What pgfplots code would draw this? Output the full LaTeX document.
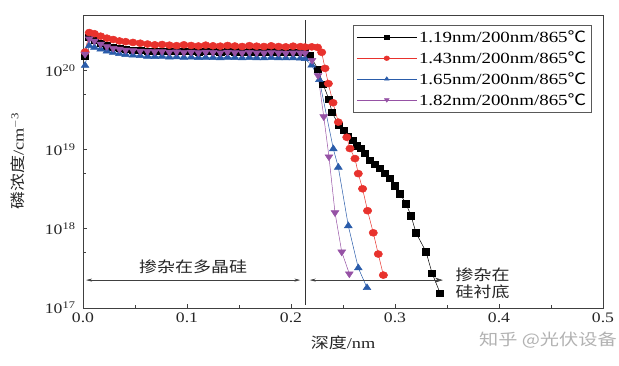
\documentclass[border=0pt]{standalone}
\usepackage{fontspec}
\setmainfont{Liberation Serif}[FakeStretch=1.22]
\newfontfamily\cjk{Noto Sans CJK SC}[FakeStretch=1.2]
\usepackage{pgfplots}
\pgfplotsset{compat=1.18}
\usetikzlibrary{arrows.meta}
\definecolor{cred}{RGB}{232,50,45}
\definecolor{cblue}{RGB}{42,92,170}
\definecolor{cpurple}{RGB}{150,82,165}
\begin{document}
\begin{tikzpicture}
\begin{axis}[
  width=520pt, height=293pt, scale only axis,
  xmin=0, xmax=0.5, ymode=log, ymin=1e17, ymax=5e20,
  xtick={0,0.1,0.2,0.3,0.4,0.5},
  minor xtick={0.05,0.15,0.25,0.35,0.45},
  ytick={1e17,1e18,1e19,1e20},
  yticklabels={10\textsuperscript{17},10\textsuperscript{18},10\textsuperscript{19},10\textsuperscript{20}},
  minor ytick={5e17,5e18,5e19},
  xticklabel={\pgfmathprintnumber[fixed,fixed zerofill,precision=1,assume math mode=true]{\tick}},
  tick align=inside, tick pos=left,
  major tick length=4pt, minor tick length=3pt,
  axis line style={black!75, line width=0.8pt},
  tick style={black!75, line width=0.6pt},
  ticklabel style={font=\fontsize{14.5}{16}\selectfont, black!85},
  yticklabel style={xshift=-4pt},
  xticklabel style={yshift=-1pt},
  xlabel={{\cjk 深度}/nm},
  ylabel={{\cjk 磷浓度}/cm\textsuperscript{$-$3}},
  xlabel style={at={(axis description cs:0.5,-0.119)}, anchor=center, font=\fontsize{15}{17}\selectfont, black!85},
  ylabel style={at={(axis description cs:-0.125,0.5)}, anchor=center, font=\fontsize{15}{17}\selectfont, black!85},
  legend style={at={(0.979,0.966)}, anchor=north east, draw=black!65, line width=0.6pt,
    font=\fontsize{15.5}{17}\selectfont, row sep=3.5pt, inner sep=3.5pt, cells={anchor=west}},
  legend image code/.code={\draw[mark repeat=2,mark phase=2,#1,mark size=2.3pt] plot coordinates {(0pt,0pt) (30pt,0pt) (60pt,0pt)};},
  every axis plot/.append style={line width=0.5pt},
  clip=false,
]
% black squares
\addplot[black, mark=square*, mark size=3.1pt, mark options={xscale=1.15}] coordinates {
(0.002,1.5e20)(0.006,2.6e20)(0.011,2.4e20)(0.017,2.2e20)(0.023,2.05e20)(0.029,1.95e20)(0.035,1.88e20)
(0.041,1.83e20)(0.048,1.8e20)(0.055,1.78e20)(0.062,1.76e20)(0.069,1.75e20)(0.076,1.76e20)(0.083,1.74e20)
(0.090,1.75e20)(0.097,1.73e20)(0.104,1.74e20)(0.111,1.72e20)(0.118,1.74e20)(0.125,1.73e20)(0.132,1.71e20)
(0.139,1.73e20)(0.146,1.72e20)(0.153,1.7e20)(0.160,1.72e20)(0.167,1.71e20)(0.174,1.7e20)(0.181,1.72e20)
(0.188,1.7e20)(0.195,1.69e20)(0.202,1.71e20)(0.209,1.7e20)(0.2135,1.69e20)
(0.2183,1.55e20)(0.226,1.03e20)(0.2308,6.7e19)(0.2365,4.3e19)(0.2394,2.94e19)(0.2462,2.01e19)
(0.251,1.74e19)(0.2548,1.46e19)(0.2596,1.30e19)(0.2635,1.12e19)(0.2673,1.03e19)(0.2712,8.9e18)
(0.276,7.25e18)(0.2808,6.46e18)(0.2856,5.75e18)(0.2904,4.97e18)(0.2952,4.3e18)(0.300,3.5e18)
(0.3048,2.77e18)(0.3106,2.07e18)(0.3154,1.46e18)(0.3202,8.9e17)(0.3298,5.13e17)(0.3356,2.77e17)(0.3433,1.55e17)
};
\addlegendentry{1.19nm/200nm/865{\cjk ℃}}
% red circles
\addplot[cred, mark=*, mark size=3.5pt, mark options={xscale=1.2}] coordinates {
(0.002,1.7e20)(0.006,3.0e20)(0.011,2.9e20)(0.017,2.7e20)(0.023,2.55e20)(0.029,2.45e20)(0.035,2.35e20)
(0.041,2.3e20)(0.048,2.25e20)(0.055,2.2e20)(0.062,2.15e20)(0.069,2.1e20)(0.076,2.12e20)(0.083,2.08e20)
(0.090,2.05e20)(0.097,2.1e20)(0.104,2.06e20)(0.111,2.03e20)(0.118,2.08e20)(0.125,2.04e20)(0.132,2.02e20)
(0.139,2.06e20)(0.146,2.03e20)(0.153,2.0e20)(0.160,2.05e20)(0.167,2.02e20)(0.174,2.0e20)(0.181,2.04e20)
(0.188,2.0e20)(0.195,1.98e20)(0.202,2.02e20)(0.209,1.99e20)(0.2135,1.97e20)(0.220,1.98e20)(0.2255,1.95e20)
(0.2295,1.69e20)(0.2327,1.06e20)(0.2359,6.8e19)(0.2404,3.9e19)(0.2455,2.22e19)(0.2536,1.43e19)
(0.2567,1.03e19)(0.2615,7.7e18)(0.2647,4.97e18)(0.2688,3.2e18)(0.2736,1.69e18)(0.2791,8.9e17)
(0.2839,4.8e17)(0.2888,2.6e17)
};
\addlegendentry{1.43nm/200nm/865{\cjk ℃}}
% blue triangles
\addplot[cblue, mark=triangle*, mark size=3.9pt, mark options={xscale=1.15}] coordinates {
(0.002,1.15e20)(0.006,2.05e20)(0.011,1.95e20)(0.017,1.85e20)(0.023,1.75e20)(0.029,1.68e20)(0.035,1.62e20)
(0.041,1.58e20)(0.048,1.55e20)(0.055,1.53e20)(0.062,1.5e20)(0.069,1.49e20)(0.076,1.5e20)(0.083,1.47e20)
(0.090,1.48e20)(0.097,1.46e20)(0.104,1.47e20)(0.111,1.45e20)(0.118,1.46e20)(0.125,1.45e20)(0.132,1.44e20)
(0.139,1.46e20)(0.146,1.45e20)(0.153,1.43e20)(0.160,1.45e20)(0.167,1.44e20)(0.174,1.43e20)(0.181,1.45e20)
(0.188,1.44e20)(0.195,1.43e20)(0.202,1.44e20)(0.209,1.42e20)(0.2135,1.4e20)
(0.2199,1.16e20)(0.2272,7.6e19)(0.2407,1.02e19)(0.2455,5.97e18)(0.2551,1.09e18)(0.2647,3.2e17)(0.2731,1.8e17)
};
\addlegendentry{1.65nm/200nm/865{\cjk ℃}}
% purple inverted triangles
\addplot[cpurple, mark=triangle*, mark options={rotate=180,xscale=1.15}, mark size=3.9pt] coordinates {
(0.002,1.6e20)(0.006,2.5e20)(0.011,2.35e20)(0.017,2.15e20)(0.023,2.0e20)(0.029,1.9e20)(0.035,1.85e20)
(0.041,1.8e20)(0.048,1.78e20)(0.055,1.75e20)(0.062,1.74e20)(0.069,1.72e20)(0.076,1.73e20)(0.083,1.7e20)
(0.090,1.71e20)(0.097,1.69e20)(0.104,1.7e20)(0.111,1.68e20)(0.118,1.7e20)(0.125,1.69e20)(0.132,1.67e20)
(0.139,1.7e20)(0.146,1.68e20)(0.153,1.66e20)(0.160,1.69e20)(0.167,1.67e20)(0.174,1.66e20)(0.181,1.68e20)
(0.188,1.66e20)(0.195,1.65e20)(0.202,1.67e20)(0.209,1.66e20)(0.2135,1.65e20)
(0.2202,1.34e20)(0.226,8.6e19)(0.2315,2.6e19)(0.2365,8.1e18)(0.2423,1.6e18)(0.2488,5.1e17)(0.2561,2.7e17)
};
\addlegendentry{1.82nm/200nm/865{\cjk ℃}}
% annotations
\draw[black!80, line width=0.7pt] (axis cs:0.2135,1.1e17) -- (axis cs:0.2135,4.3e20);
\draw[black!75, line width=0.5pt, {Stealth[length=6pt,width=3pt]}-{Stealth[length=6pt,width=3pt]}] (axis cs:0.003,2.25e17) -- (axis cs:0.209,2.25e17);
\draw[black!75, line width=0.5pt, {Stealth[length=6pt,width=3pt]}-{Stealth[length=8pt,width=5pt]}] (axis cs:0.218,2.25e17) -- (axis cs:0.346,2.25e17);
\node[font=\cjk\fontsize{15}{17}\selectfont, black!85] at (axis cs:0.106,3.35e17) {掺杂在多晶硅};
\node[font=\cjk\fontsize{15}{17}\selectfont, black!85, anchor=west, align=left, inner sep=0pt] at (axis cs:0.358,2.05e17) {掺杂在\\硅衬底};
\node[font=\cjk\fontsize{16}{18}\selectfont, black!30] at (axis description cs:0.894,-0.109) {知乎 @光伏设备};
\end{axis}
\pgfresetboundingbox
\path ([xshift=-83pt,yshift=-57pt]current axis.south west) rectangle ([xshift=16pt,yshift=15pt]current axis.north east);
\end{tikzpicture}
\end{document}
